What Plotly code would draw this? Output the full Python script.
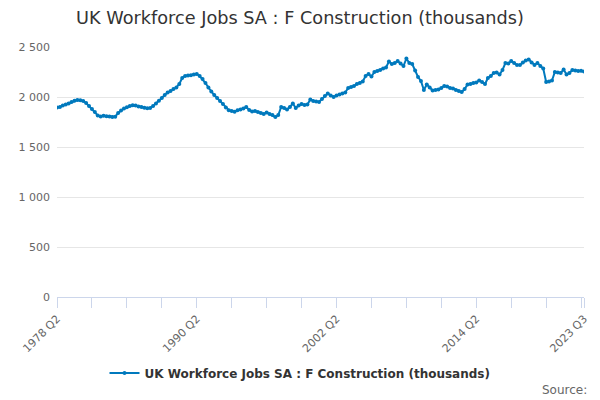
import plotly.graph_objects as go

start_year = 1978
start_q = 2
values = [
    1895, 1900, 1915, 1925, 1935, 1950, 1962, 1970, 1968, 1960,
    1940, 1910, 1880, 1850, 1815, 1805, 1812, 1808, 1805, 1800,
    1803, 1840, 1865, 1885, 1897, 1910, 1918, 1915, 1905, 1900,
    1892, 1887, 1890, 1910, 1935, 1962, 1990, 2020, 2045, 2060,
    2080, 2095, 2130, 2190, 2210, 2215, 2218, 2225, 2230, 2210,
    2180, 2140, 2095, 2055, 2020, 1990, 1960, 1930, 1895, 1868,
    1860, 1852, 1868, 1875, 1885, 1900, 1870, 1855, 1860, 1850,
    1840, 1830, 1845, 1830, 1820, 1800, 1820, 1900, 1890, 1875,
    1900, 1935, 1890, 1915, 1930, 1920, 1925, 1975, 1960, 1955,
    1950, 1980, 2010, 2035, 2015, 2000, 2015, 2025, 2035, 2045,
    2090, 2100, 2110, 2130, 2140, 2155, 2210, 2230, 2205, 2250,
    2260, 2270, 2285, 2295, 2355, 2330, 2340, 2360, 2335, 2310,
    2385, 2340, 2330, 2265, 2200, 2160, 2070, 2125, 2095, 2065,
    2070, 2075, 2090, 2110, 2105, 2090, 2085, 2070, 2060, 2050,
    2080, 2125, 2130, 2140, 2145, 2165, 2150, 2130, 2190, 2210,
    2240, 2245, 2225, 2270, 2340, 2335, 2360, 2340, 2320, 2320,
    2345, 2365, 2375, 2345, 2320, 2340, 2310, 2285, 2150, 2155,
    2165, 2250, 2245, 2240, 2275, 2225, 2240, 2270, 2265, 2260,
    2262, 2255,
]

categories = []
y, q = start_year, start_q
for _ in values:
    categories.append(f"{y} Q{q}")
    q += 1
    if q > 4:
        q = 1
        y += 1

labelled = ["1978 Q2", "1990 Q2", "2002 Q2", "2014 Q2", "2023 Q3"]
tick_vals = categories[::12] + [categories[-1]]
tick_text = [c if c in labelled else "" for c in tick_vals]

series_name = "UK Workforce Jobs SA : F Construction (thousands)"
color = "#0079bd"
font = "DejaVu Sans"

# page body has an 8px default margin, so the figure is 8px smaller each way
W, H = 592, 392

fig = go.Figure()
fig.add_trace(go.Scatter(
    x=categories, y=values, mode="lines+markers", name=series_name,
    line=dict(color=color, width=2),
    marker=dict(color=color, size=4),
))

fig.update_layout(
    width=W, height=H,
    margin=dict(l=49, r=16, t=39, b=103, autoexpand=False),
    paper_bgcolor="white", plot_bgcolor="white",
    separators=". ",
    font=dict(family=font, color="#666666", size=11),
    title=dict(text=series_name, x=292 / W, xref="container", xanchor="center",
               y=1 - 10 / H, yref="container", yanchor="middle",
               font=dict(family=font, size=17.7, color="#333333")),
    showlegend=True,
    legend=dict(orientation="h", xref="container", x=292 / W, xanchor="center",
                yref="container", y=1 - 365 / H, yanchor="middle",
                font=dict(family=font, size=12, color="#333333", weight="bold"),
                itemwidth=30),
    xaxis=dict(type="category", tickmode="array", tickvals=tick_vals, ticktext=tick_text,
               tickangle=-45, ticks="outside", ticklen=10, tickcolor="#ccd6eb",
               showline=True, linecolor="#ccd6eb", showgrid=False, automargin=False,
               range=[0, len(values) - 1], tickfont=dict(size=11, color="#666666")),
    yaxis=dict(range=[0, 2500], tickvals=[0, 500, 1000, 1500, 2000, 2500], tickformat=",d",
               gridcolor="#e6e6e6", zeroline=False, showline=False, automargin=False,
               ticklabelstandoff=6,
               tickfont=dict(size=11, color="#666666")),
    annotations=[dict(text="Source:", xref="paper", yref="paper", x=1.0095, y=-0.372,
                      xanchor="right", yanchor="middle", showarrow=False,
                      font=dict(family=font, size=12, color="#666666"))],
)

fig.write_html("out.html")
